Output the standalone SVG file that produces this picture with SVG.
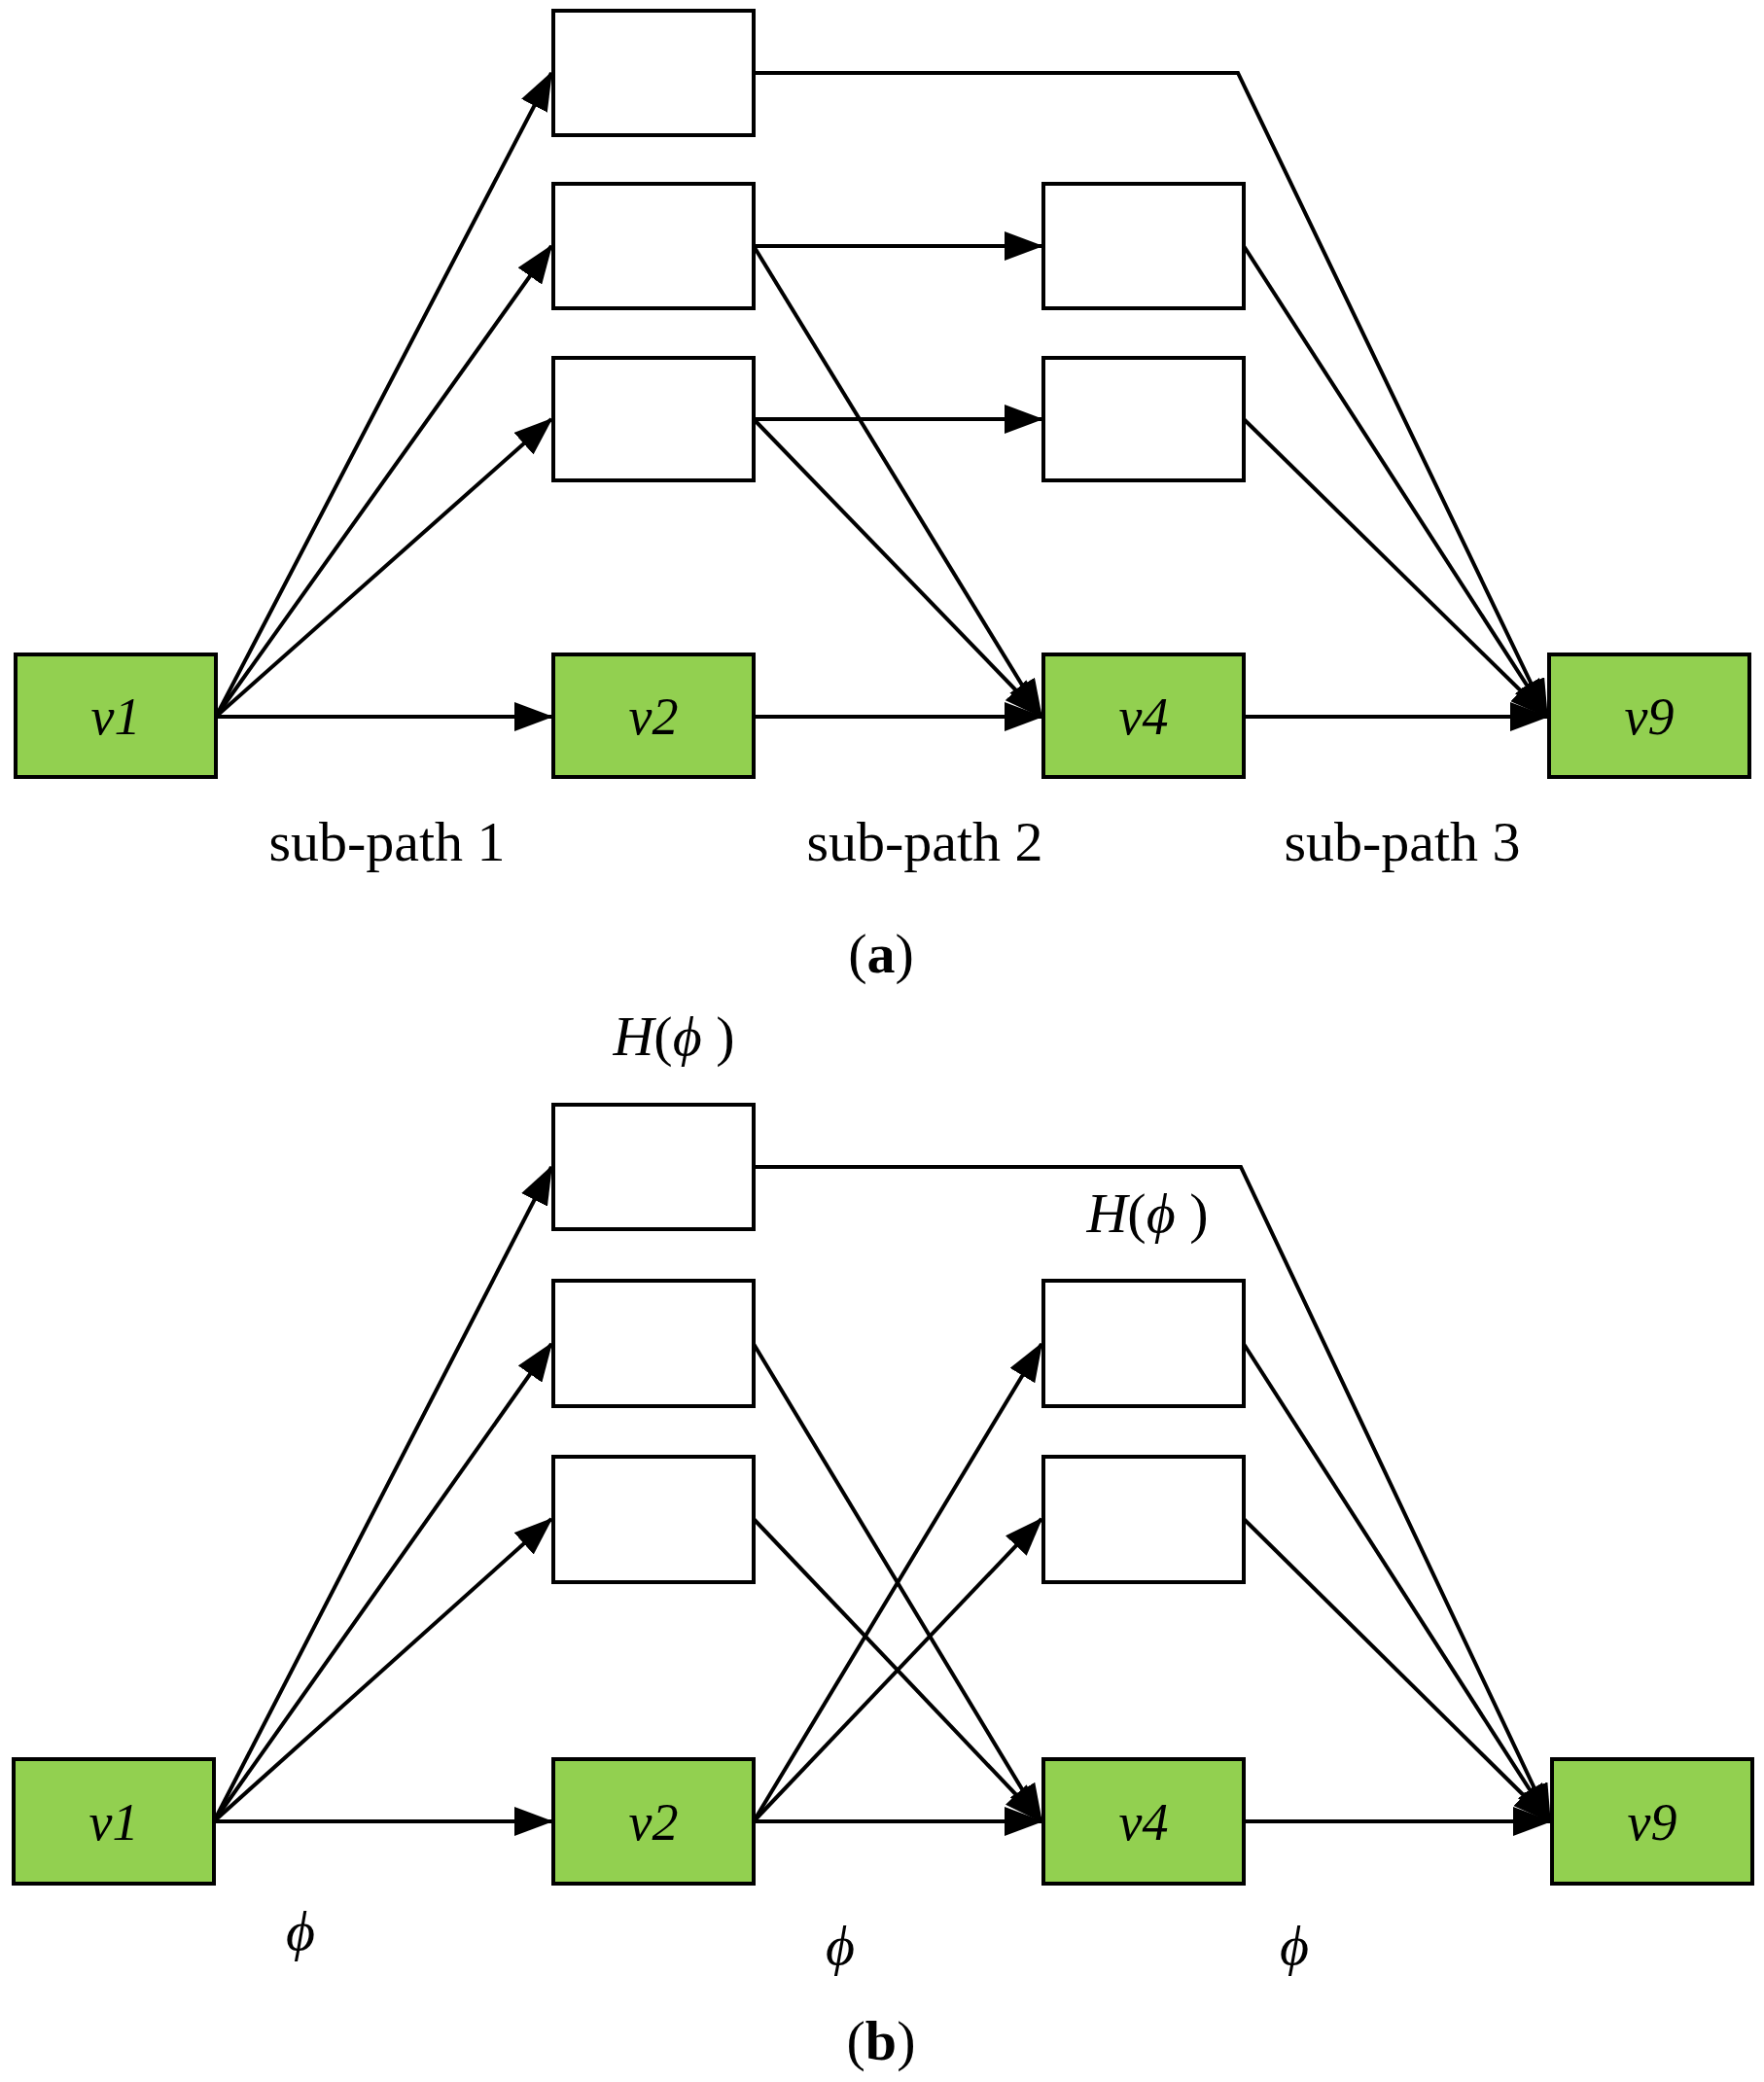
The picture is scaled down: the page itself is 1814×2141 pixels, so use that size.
<svg xmlns="http://www.w3.org/2000/svg" width="1814" height="2141" viewBox="0 0 1814 2141">
<style>
.n{fill:#fff;stroke:#000;stroke-width:4}
.g{fill:#92d050;stroke:#000;stroke-width:4}
.e{fill:none;stroke:#000;stroke-width:4}
.a{marker-end:url(#ah)}
text{font-family:"Liberation Serif",serif;fill:#000}
.v{font-size:54px;font-style:italic;text-anchor:middle}
.s{font-size:58px;text-anchor:middle}
</style>
<defs>
<marker id="ah" markerUnits="userSpaceOnUse" markerWidth="40" markerHeight="30" refX="38" refY="15" orient="auto">
<path d="M0,0 L40,15 L0,30 Z" fill="#000"/>
</marker>
</defs>
<rect width="1814" height="2141" fill="#fff"/>
<g id="edges-a">
<line class="e a" x1="222" y1="737" x2="567" y2="75"/>
<line class="e a" x1="222" y1="737" x2="567" y2="253"/>
<line class="e a" x1="222" y1="737" x2="567" y2="431"/>
<line class="e a" x1="222" y1="737" x2="567" y2="737"/>
<line class="e a" x1="775" y1="737" x2="1071" y2="737"/>
<line class="e a" x1="1279" y1="737" x2="1591" y2="737"/>
<line class="e a" x1="775" y1="253" x2="1071" y2="253"/>
<line class="e a" x1="775" y1="431" x2="1071" y2="431"/>
<line class="e a" x1="775" y1="253" x2="1071" y2="737"/>
<line class="e a" x1="775" y1="431" x2="1071" y2="737"/>
<polyline class="e a" points="775,75 1273,75 1591,737"/>
<line class="e a" x1="1279" y1="253" x2="1591" y2="737"/>
<line class="e a" x1="1279" y1="431" x2="1591" y2="737"/>
</g>
<g id="a-top"><rect class="n" x="569" y="11" width="206" height="128"/></g>
<g id="a-mid1"><rect class="n" x="569" y="189" width="206" height="128"/></g>
<g id="a-mid2"><rect class="n" x="569" y="368" width="206" height="126"/></g>
<g id="a-r1"><rect class="n" x="1073" y="189" width="206" height="128"/></g>
<g id="a-r2"><rect class="n" x="1073" y="368" width="206" height="126"/></g>
<g id="a-v1"><rect class="g" x="16" y="673" width="206" height="126"/><text class="v" x="119" y="755">v1</text></g>
<g id="a-v2"><rect class="g" x="569" y="673" width="206" height="126"/><text class="v" x="672" y="755">v2</text></g>
<g id="a-v4"><rect class="g" x="1073" y="673" width="206" height="126"/><text class="v" x="1176" y="755">v4</text></g>
<g id="a-v9"><rect class="g" x="1593" y="673" width="206" height="126"/><text class="v" x="1696" y="755">v9</text></g>
<text class="s" x="398" y="885">sub-path 1</text>
<text class="s" x="951" y="885">sub-path 2</text>
<text class="s" x="1442" y="885">sub-path 3</text>
<text class="s" x="906" y="1000">(<tspan font-weight="bold">a</tspan>)</text>

<g id="edges-b">
<line class="e a" x1="220" y1="1873" x2="567" y2="1200"/>
<line class="e a" x1="220" y1="1873" x2="567" y2="1382"/>
<line class="e a" x1="220" y1="1873" x2="567" y2="1562"/>
<line class="e a" x1="220" y1="1873" x2="567" y2="1873"/>
<line class="e a" x1="775" y1="1873" x2="1071" y2="1873"/>
<line class="e a" x1="1279" y1="1873" x2="1594" y2="1873"/>
<line class="e a" x1="775" y1="1873" x2="1071" y2="1382"/>
<line class="e a" x1="775" y1="1873" x2="1071" y2="1562"/>
<line class="e a" x1="775" y1="1382" x2="1071" y2="1873"/>
<line class="e a" x1="775" y1="1562" x2="1071" y2="1873"/>
<polyline class="e a" points="775,1200 1276,1200 1594,1873"/>
<line class="e a" x1="1279" y1="1382" x2="1594" y2="1873"/>
<line class="e a" x1="1279" y1="1562" x2="1594" y2="1873"/>
</g>
<g id="b-top"><rect class="n" x="569" y="1136" width="206" height="128"/></g>
<g id="b-mid1"><rect class="n" x="569" y="1317" width="206" height="129"/></g>
<g id="b-mid2"><rect class="n" x="569" y="1498" width="206" height="129"/></g>
<g id="b-r1"><rect class="n" x="1073" y="1317" width="206" height="129"/></g>
<g id="b-r2"><rect class="n" x="1073" y="1498" width="206" height="129"/></g>
<g id="b-v1"><rect class="g" x="14" y="1809" width="206" height="128"/><text class="v" x="117" y="1892">v1</text></g>
<g id="b-v2"><rect class="g" x="569" y="1809" width="206" height="128"/><text class="v" x="672" y="1892">v2</text></g>
<g id="b-v4"><rect class="g" x="1073" y="1809" width="206" height="128"/><text class="v" x="1176" y="1892">v4</text></g>
<g id="b-v9"><rect class="g" x="1596" y="1809" width="206" height="128"/><text class="v" x="1699" y="1892">v9</text></g>
<text class="s" x="693" y="1085"><tspan font-style="italic">H</tspan>(<tspan font-style="italic">ϕ</tspan> )</text>
<text class="s" x="1180" y="1267"><tspan font-style="italic">H</tspan>(<tspan font-style="italic">ϕ</tspan> )</text>
<text class="s" x="309" y="2005" font-style="italic">ϕ</text>
<text class="s" x="864" y="2020" font-style="italic">ϕ</text>
<text class="s" x="1331" y="2020" font-style="italic">ϕ</text>
<text class="s" x="906" y="2118">(<tspan font-weight="bold">b</tspan>)</text>
</svg>
